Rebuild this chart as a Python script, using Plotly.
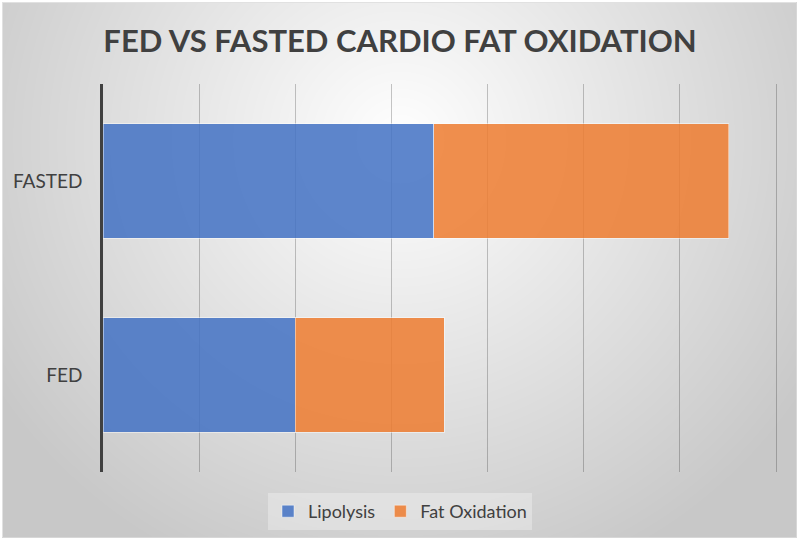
import base64, struct, zlib
import numpy as np
import plotly.graph_objects as go

# ---- data ----
categories = ["FED", "FASTED"]
lipolysis = [2.0, 3.44]
fat_oxidation = [1.55, 3.07]
series_names = ["Lipolysis", "Fat Oxidation"]
title_text = "FED VS FASTED CARDIO FAT OXIDATION"

W, H = 800, 543
L, R, T, B = 103, 22, 84, 71

# ---- background gradient image (style only) ----
def make_png(arr):
    h, w = arr.shape
    raw = b"".join(b"\x00" + arr[i].tobytes() for i in range(h))
    def chunk(tag, data):
        c = struct.pack(">I", len(data)) + tag + data
        return c + struct.pack(">I", zlib.crc32(tag + data) & 0xffffffff)
    png = b"\x89PNG\r\n\x1a\n"
    png += chunk(b"IHDR", struct.pack(">IIBBBBB", w, h, 8, 0, 0, 0, 0))
    png += chunk(b"IDAT", zlib.compress(raw, 9))
    png += chunk(b"IEND", b"")
    return "data:image/png;base64," + base64.b64encode(png).decode()

yy, xx = np.mgrid[0:H, 0:W].astype(float)
dx = (xx - 400) / 440.0
dy = (yy - 140) / 430.0
r = np.sqrt(dx ** 2 + dy ** 2)
v = 255 - 50 * np.clip(r, 0, 1.2)
v = np.clip(v, 200, 255)
img = v.astype(np.uint8)
# frame: white outside, light border line
img[:, 797:] = 255
img[538:, :] = 255
img[0:2, :] = 255
img[:, 0:2] = 255
img[2, 2:797] = 225
img[2:538, 2] = 225
img[537, 2:797] = 215
img[2:538, 796] = 215
bg_src = make_png(img)

pw = W - L - R
ph = H - T - B

fig = go.Figure()
fig.add_trace(go.Bar(
    y=categories, x=lipolysis, name=series_names[0], orientation="h",
    marker=dict(color="rgba(68,114,196,0.86)", line=dict(color="rgba(255,255,255,0.45)", width=1)),
    width=0.59,
))
fig.add_trace(go.Bar(
    y=categories, x=fat_oxidation, name=series_names[1], orientation="h",
    marker=dict(color="rgba(237,125,49,0.86)", line=dict(color="rgba(255,255,255,0.45)", width=1)),
    width=0.59,
))

fig.add_layout_image(dict(
    source=bg_src, xref="paper", yref="paper",
    x=-L / pw, y=1 + T / ph, sizex=W / pw, sizey=H / ph,
    xanchor="left", yanchor="top", sizing="stretch", layer="below",
))

fig.update_layout(
    width=W, height=H,
    margin=dict(l=L, r=R, t=T, b=B, pad=0),
    barmode="stack",
    paper_bgcolor="white",
    plot_bgcolor="rgba(0,0,0,0)",
    title=dict(text="<b>" + title_text + "</b>", x=0.5, xref="container", xanchor="center",
               y=1 - 41 / H, yanchor="middle",
               font=dict(family="Lato", size=31, color="#404040")),
    xaxis=dict(range=[0, 7.02], dtick=1, tick0=0, showticklabels=False, showgrid=True,
               gridcolor="rgba(0,0,0,0.22)", gridwidth=1, zeroline=False,
               showline=False, ticks=""),
    yaxis=dict(range=[-0.5, 1.5], showgrid=False, zeroline=False,
               showline=True, linecolor="#404040", linewidth=2.5,
               ticks="", ticklabelstandoff=14,
               tickfont=dict(family="Lato", size=19, color="#404040")),
    legend=dict(orientation="h", x=(400 - L) / pw, xanchor="center",
                y=-(493 - (H - B)) / ph, yanchor="top",
                bgcolor="rgba(255,255,255,0.3)",
                font=dict(family="Lato", size=18, color="#404040"),
                itemwidth=30, traceorder="normal"),
    showlegend=True,
)

fig.write_html("out.html")
